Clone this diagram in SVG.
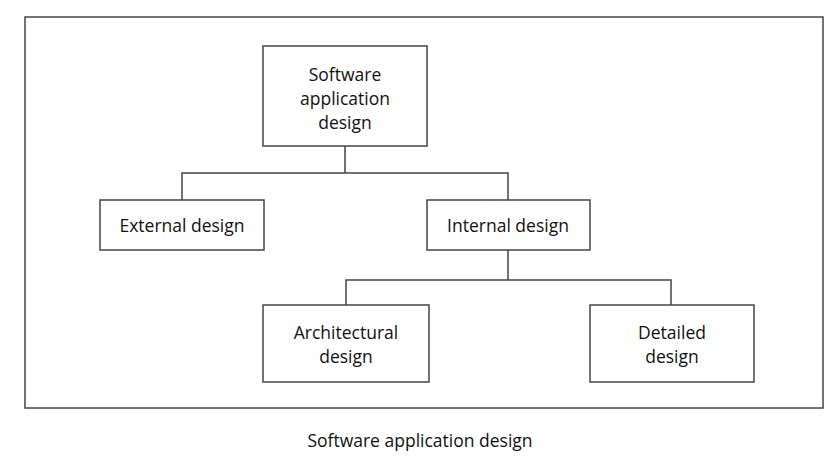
<svg xmlns="http://www.w3.org/2000/svg" width="840" height="462" viewBox="0 0 840 462">
<style>
rect{fill:#fff;stroke:#444;stroke-width:1.5}
text{font-family:"Open Sans","Liberation Sans",sans-serif;font-size:17.5px;fill:#111;text-anchor:middle}
.c{fill:none;stroke:#444;stroke-width:1.5}
</style>
<rect width="840" height="462" style="stroke:none"/>
<rect x="25" y="17" width="798" height="391"/>
<g id="connectors">
<path class="c" d="M345 146V173M182 200V173H508V200M508 250V280M346 305V280H671V305"/>
</g>
<g id="n-root"><rect x="263" y="46" width="164" height="100"/><text x="345" y="81">Software</text><text x="345" y="105">application</text><text x="345" y="129">design</text></g>
<g id="n-external"><rect x="100" y="200" width="164" height="50"/><text x="182" y="232">External design</text></g>
<g id="n-internal"><rect x="427" y="200" width="163" height="50"/><text x="508" y="232">Internal design</text></g>
<g id="n-arch"><rect x="263" y="305" width="166" height="77"/><text x="346" y="339">Architectural</text><text x="346" y="363">design</text></g>
<g id="n-detail"><rect x="590" y="305" width="164" height="77"/><text x="672" y="339">Detailed</text><text x="672" y="363">design</text></g>
<text x="420" y="447">Software application design</text>
</svg>
